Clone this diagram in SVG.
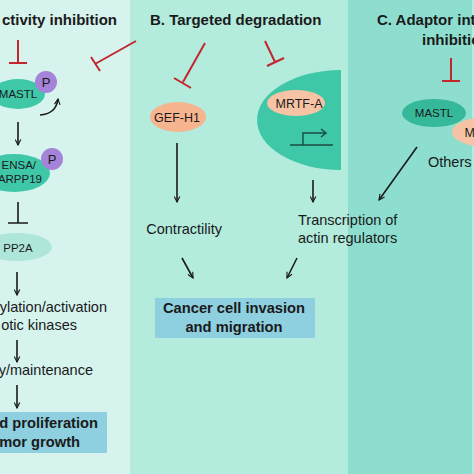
<svg xmlns="http://www.w3.org/2000/svg" width="474" height="474" viewBox="0 0 474 474">
<style>
.t{font-family:"Liberation Sans",Arial,sans-serif;fill:#1a1a1a}
.h{font-size:15px;font-weight:bold}
.n{font-size:11.5px}
.m{font-size:12.5px}
.b{font-size:14.5px}
.bx{font-size:14.7px;font-weight:bold}
.k{stroke:#1a1a1a;stroke-width:1.6;fill:none}
.r{stroke:#c4262e;stroke-width:2;fill:none}
</style>
<defs>
<marker id="ar" viewBox="0 0 10 10" refX="9" refY="5" markerWidth="7" markerHeight="7" orient="auto" markerUnits="userSpaceOnUse">
<path d="M1,1 L9,5 L1,9" fill="none" stroke="#1a1a1a" stroke-width="1.6"/>
</marker>
</defs>
<rect x="0" y="0" width="130" height="474" fill="#d6f3ee"/>
<rect x="130" y="0" width="218" height="474" fill="#b3ebdd"/>
<rect x="348" y="0" width="124" height="474" fill="#8edecf"/>
<rect x="472" y="0" width="2" height="474" fill="#b3ebdd"/>
<text class="t h" x="2" y="25">ctivity inhibition</text>
<text class="t h" x="150" y="25">B. Targeted degradation</text>
<text class="t h" x="377" y="25">C. Adaptor interaction</text>
<text class="t h" x="422" y="45">inhibition</text>
<g id="mastlA"><ellipse cx="18" cy="94" rx="27" ry="15" fill="#3ec8a8"/><text class="t n" x="18" y="98" text-anchor="middle">MASTL</text></g>
<g id="pA1"><circle cx="46" cy="82" r="11" fill="#a583d8"/><text class="t" x="46" y="87" font-size="13" text-anchor="middle">P</text></g>
<g id="ensa"><ellipse cx="14" cy="173" rx="36" ry="19" fill="#3ec8a8"/><text class="t n" x="36" y="169" text-anchor="end">ENSA/</text><text class="t n" x="42" y="183" text-anchor="end">ARPP19</text></g>
<g id="pA2"><circle cx="52" cy="159" r="11" fill="#a583d8"/><text class="t" x="52" y="164" font-size="13" text-anchor="middle">P</text></g>
<g id="pp2a"><ellipse cx="17" cy="247" rx="35" ry="14" fill="#aee7da"/><text class="t n" x="18" y="252" text-anchor="middle">PP2A</text></g>
<text class="t b" x="107" y="312" text-anchor="end">ylation/activation</text>
<text class="t b" x="77" y="330" text-anchor="end">otic kinases</text>
<text class="t b" x="93" y="375" text-anchor="end">ry/maintenance</text>
<g id="boxA"><rect x="0" y="412" width="107" height="41" fill="#8ecfe0"/><text class="t bx" x="98" y="428" text-anchor="end">d proliferation</text><text class="t bx" x="80" y="447" text-anchor="end">mor growth</text></g>
<g id="nucleus"><path d="M341,70 A84,50 0 0 0 341,170 Z" fill="#3ec8a8"/></g>
<g id="gefh1"><ellipse cx="178" cy="117" rx="28" ry="15" fill="#f6b48f"/><text class="t m" x="177" y="122" text-anchor="middle">GEF-H1</text></g>
<g id="mrtfB"><ellipse cx="296" cy="103" rx="29" ry="13" fill="#f6c4a4"/><text class="t m" x="299" y="108" text-anchor="middle">MRTF-A</text></g>
<g id="promoter"><path d="M290,145 H333 M303,145 V133 H325" stroke="#1c4a40" stroke-width="1.4" fill="none"/><path d="M321,129 L326,133 L321,137" stroke="#1c4a40" stroke-width="1.4" fill="none"/></g>
<text class="t b" x="222" y="234" text-anchor="end">Contractility</text>
<text class="t b" x="298" y="225">Transcription of</text>
<text class="t b" x="298" y="243">actin regulators</text>
<g id="boxB"><rect x="155" y="298" width="160" height="40" fill="#8ecfe0"/><text class="t bx" x="234" y="313" text-anchor="middle">Cancer cell invasion</text><text class="t bx" x="234" y="332" text-anchor="middle">and migration</text></g>
<g id="mrtfC"><ellipse cx="486" cy="132" rx="34" ry="15" fill="#f6c4a4"/><text class="t m" x="488" y="137" text-anchor="middle">MRTF-A</text></g>
<g id="mastlC"><ellipse cx="434" cy="113" rx="32" ry="14" fill="#35b99a"/><text class="t n" x="434" y="117" text-anchor="middle">MASTL</text></g>
<text class="t b" x="428" y="167">Others</text>
<g id="connectors">
<path class="r" d="M18,40 V63 M9,63 H27"/>
<path class="r" d="M136,41 L95,64 M91,57 L100,71"/>
<path class="r" d="M205,43 L183,82 M174,78 L191,88"/>
<path class="r" d="M265,41 L275,62 M267,66 L284,58"/>
<path class="r" d="M451,58 V81 M442,81 H460"/>
<path class="k" d="M40,115 Q56,114 58,99" marker-end="url(#ar)"/>
<path class="k" d="M18,122 V145" marker-end="url(#ar)"/>
<path class="k" d="M18,202 V223 M8,223 H28"/>
<path class="k" d="M17,272 V295" marker-end="url(#ar)"/>
<path class="k" d="M17,340 V362" marker-end="url(#ar)"/>
<path class="k" d="M17,385 V408" marker-end="url(#ar)"/>
<path class="k" d="M177,143 V202" marker-end="url(#ar)"/>
<path class="k" d="M313,180 V202" marker-end="url(#ar)"/>
<path class="k" d="M182,258 L193,278" marker-end="url(#ar)"/>
<path class="k" d="M297,258 L287,278" marker-end="url(#ar)"/>
<path class="k" d="M417,147 L379,200" marker-end="url(#ar)"/>
</g>
</svg>
